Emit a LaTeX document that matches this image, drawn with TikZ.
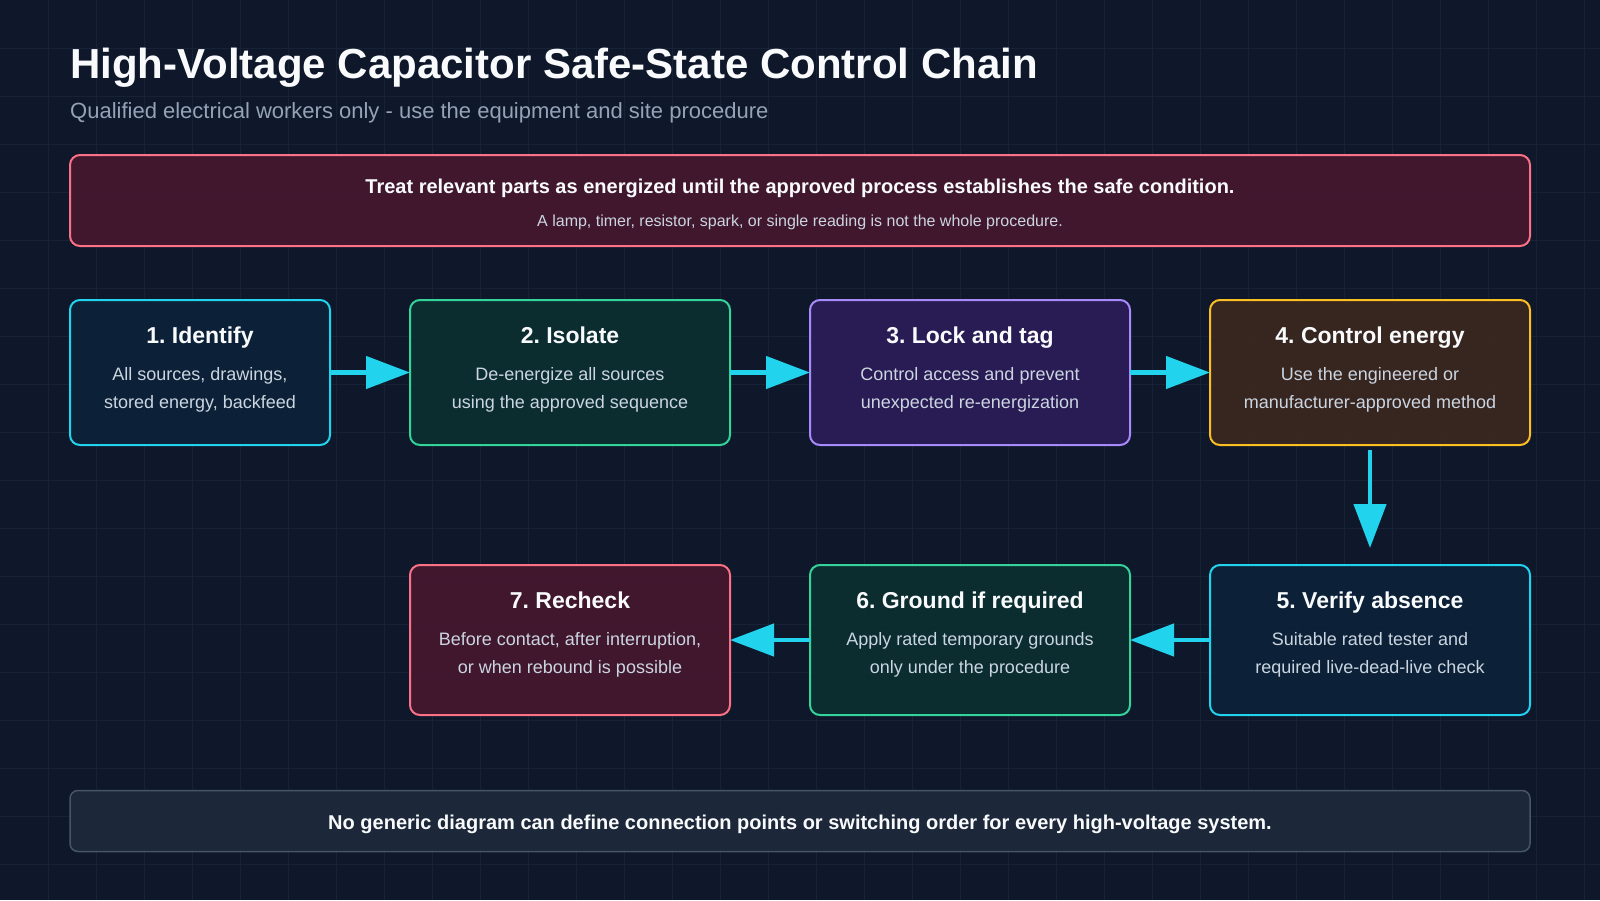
\documentclass[tikz,border=0pt]{standalone}
\usepackage{fontspec}
\setmainfont{Liberation Sans}
\usetikzlibrary{arrows.meta,calc}
\definecolor{bg}{HTML}{0F172A}
\definecolor{gridc}{HTML}{182236}
\definecolor{titlec}{HTML}{F8FAFC}
\definecolor{subc}{HTML}{94A3B8}
\definecolor{descc}{HTML}{CBD5E1}
\definecolor{cyanB}{HTML}{22D3EE}
\definecolor{cyanF}{HTML}{0C2239}
\definecolor{greenB}{HTML}{34D399}
\definecolor{greenF}{HTML}{0B2F31}
\definecolor{violetB}{HTML}{A78BFA}
\definecolor{violetF}{HTML}{2B1D58}
\definecolor{amberB}{HTML}{FBBF24}
\definecolor{amberF}{HTML}{3B2720}
\definecolor{roseB}{HTML}{FB7185}
\definecolor{roseF}{HTML}{45172F}
\definecolor{slateB}{HTML}{475569}
\definecolor{slateF}{HTML}{1E293B}
\begin{document}
\frenchspacing
\begin{tikzpicture}[x=1pt,y=-1pt,
  gridl/.style={draw=gridc, line width=1pt},
  box/.style={draw, line width=2pt, rounded corners=10pt, outer sep=0pt, inner sep=0pt, fill opacity=0.93},
  ttl/.style={font=\fontsize{23}{27}\selectfont\bfseries, text=titlec, inner sep=0pt, anchor=base},
  dsc/.style={font=\fontsize{18}{22}\selectfont, text=descc, inner sep=0pt, anchor=base},
  flow/.style={draw=cyanB, line width=4.5pt, -{Triangle[length=44pt,width=32pt]}}
]
\useasboundingbox (0,0) rectangle (1600,900);
\fill[bg] (0,0) rectangle (1600,900);
\foreach \i in {48,96,...,1584} \draw[gridl] (\i,0) -- (\i,900);
\foreach \j in {48,96,...,864} \draw[gridl] (0,\j) -- (1600,\j);

% header
\node[anchor=base west, inner sep=0pt, font=\fontsize{42}{50}\selectfont\bfseries, text=titlec] (title) at (70,78) {High-Voltage Capacitor Safe-State Control Chain};
\node[anchor=base west, inner sep=0pt, font=\fontsize{22}{26}\selectfont, text=subc] (sub) at (70,118) {Qualified electrical workers only - use the equipment and site procedure};

% banner
\node[box, draw=roseB, fill=roseF, minimum width=1460pt, minimum height=91pt] (banner) at (800,200.5) {};
\node[anchor=base, inner sep=0pt, font=\fontsize{20}{24}\selectfont\bfseries, text=titlec] (ban1) at (800,193) {Treat relevant parts as energized until the approved process establishes the safe condition.};
\node[anchor=base, inner sep=0pt, font=\fontsize{16}{20}\selectfont, text=descc] (ban2) at (800,226) {A lamp, timer, resistor, spark, or single reading is not the whole procedure.};

% row 1
\node[box, draw=cyanB, fill=cyanF, minimum width=260pt, minimum height=145pt] (b1) at (200,372.5) {};
\node[ttl] (b1t) at (200,343) {1. Identify};
\node[dsc] (b1a) at (200,380.5) {All sources, drawings,};
\node[dsc] (b1b) at (200,408.5) {stored energy, backfeed};

\node[box, draw=greenB, fill=greenF, minimum width=320pt, minimum height=145pt] (b2) at (570,372.5) {};
\node[ttl] (b2t) at (570,343) {2. Isolate};
\node[dsc] (b2a) at (570,380.5) {De-energize all sources};
\node[dsc] (b2b) at (570,408.5) {using the approved sequence};

\node[box, draw=violetB, fill=violetF, minimum width=320pt, minimum height=145pt] (b3) at (970,372.5) {};
\node[ttl] (b3t) at (970,343) {3. Lock and tag};
\node[dsc] (b3a) at (970,380.5) {Control access and prevent};
\node[dsc] (b3b) at (970,408.5) {unexpected re-energization};

\node[box, draw=amberB, fill=amberF, minimum width=320pt, minimum height=145pt] (b4) at (1370,372.5) {};
\node[ttl] (b4t) at (1370,343) {4. Control energy};
\node[dsc] (b4a) at (1370,380.5) {Use the engineered or};
\node[dsc] (b4b) at (1370,408.5) {manufacturer-approved method};

% row 2
\node[box, draw=cyanB, fill=cyanF, minimum width=320pt, minimum height=150pt] (b5) at (1370,640) {};
\node[ttl] (b5t) at (1370,608) {5. Verify absence};
\node[dsc] (b5a) at (1370,645) {Suitable rated tester and};
\node[dsc] (b5b) at (1370,673) {required live-dead-live check};

\node[box, draw=greenB, fill=greenF, minimum width=320pt, minimum height=150pt] (b6) at (970,640) {};
\node[ttl] (b6t) at (970,608) {6. Ground if required};
\node[dsc] (b6a) at (970,645) {Apply rated temporary grounds};
\node[dsc] (b6b) at (970,673) {only under the procedure};

\node[box, draw=roseB, fill=roseF, minimum width=320pt, minimum height=150pt] (b7) at (570,640) {};
\node[ttl] (b7t) at (570,608) {7. Recheck};
\node[dsc] (b7a) at (570,645) {Before contact, after interruption,};
\node[dsc] (b7b) at (570,673) {or when rebound is possible};

% connectors
\draw[flow] (b1.east) -- (b2.west);
\draw[flow] (b2.east) -- (b3.west);
\draw[flow] (b3.east) -- (b4.west);
\coordinate (v1) at ($(b4.south)+(0,5)$);
\coordinate (v2) at ($(b5.north)+(0,-17)$);
\draw[flow] (v1) -- (v2);
\draw[flow] (b5.west) -- (b6.east);
\draw[flow] (b6.west) -- (b7.east);

% footer note
\node[box, draw=slateB, fill=slateF, line width=1.5pt, rounded corners=8pt, minimum width=1460pt, minimum height=61pt] (note) at (800,821) {};
\node[anchor=base, inner sep=0pt, font=\fontsize{20}{24}\selectfont\bfseries, text=titlec] (notet) at (800,829) {No generic diagram can define connection points or switching order for every high-voltage system.};
\end{tikzpicture}
\end{document}
